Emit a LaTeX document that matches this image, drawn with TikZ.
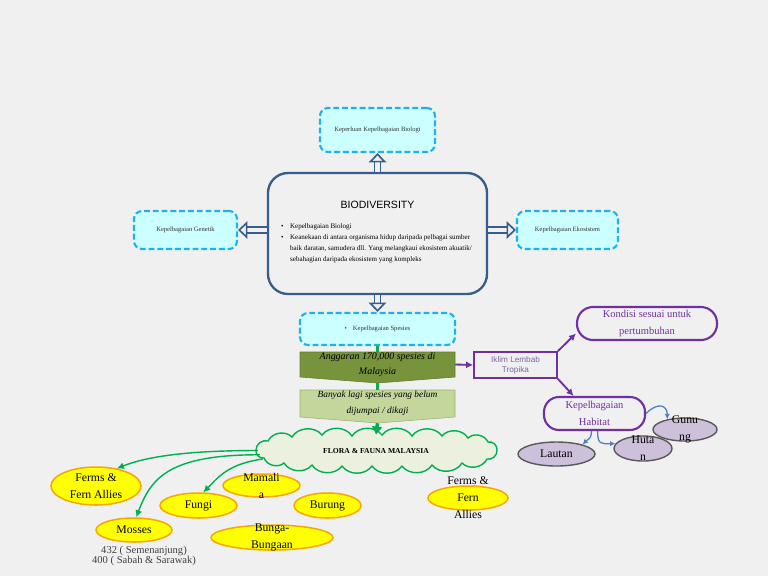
\documentclass[tikz,border=0pt]{standalone}
\usepackage{fontspec}
\setmainfont{Liberation Serif}
\setsansfont{Liberation Sans}
\usetikzlibrary{arrows.meta,shapes.geometric}

\definecolor{paper}{HTML}{F0F0F0}
\definecolor{navy}{HTML}{385D8A}
\definecolor{skyline}{HTML}{1FB0F0}
\definecolor{skyfill}{HTML}{CCFFFF}
\definecolor{darkolive}{HTML}{77933C}
\definecolor{lightolive}{HTML}{C3D69B}
\definecolor{leaf}{HTML}{00B050}
\definecolor{mint}{HTML}{EBF1DE}
\definecolor{grape}{HTML}{7030A0}
\definecolor{lilactext}{HTML}{8064A2}
\definecolor{steel}{HTML}{4F81BD}
\definecolor{lavender}{HTML}{CCC0DA}
\definecolor{sun}{HTML}{FFFF00}
\definecolor{amber}{HTML}{F5A800}

\begin{document}
\begin{tikzpicture}[x=0.03cm, y=-0.03cm,
    cyanbox/.style={draw=skyline, fill=skyfill, line width=1.8pt, dash pattern=on 5pt off 2.5pt, rounded corners=0.24cm, font=\fontsize{5.6}{7}\selectfont, text=black!80},
    hollowarr/.style={draw=navy, line width=1.4pt, double=paper, double distance=3.6pt, -{Triangle[open, fill=paper, length=8pt, width=15pt]}},
    purplebox/.style={draw=grape, line width=1.8pt, text=grape, align=center, inner sep=0pt, font=\fontsize{9}{15}\selectfont},
    purplearr/.style={draw=grape, line width=1.6pt, -{Latex[length=6pt,width=6pt]}},
    bluearr/.style={draw=steel, line width=1.1pt, -{Latex[length=4.5pt,width=4.5pt]}},
    greenarr/.style={draw=leaf, line width=1.2pt, -{Latex[length=6pt,width=6pt]}},
    greenline/.style={draw=leaf, line width=3pt},
    yellowell/.style={ellipse, draw=amber, fill=sun, line width=1.3pt, inner sep=0pt, font=\fontsize{10}{14.5}\selectfont},
    lavell/.style={ellipse, draw=black!65, fill=lavender, line width=1.2pt, inner sep=0pt, font=\fontsize{10}{14.5}\selectfont},
    handlbl/.style={align=center, inner sep=0pt, font=\fontsize{10}{14.5}\selectfont},
  ]

    % page
    \fill[paper] (0,0) rectangle (768,576);
    \useasboundingbox (0,0) rectangle (768,576);

    % central box
    \node[draw=navy, line width=2pt, rounded corners=0.6cm, minimum width=6.57cm, minimum height=3.63cm] (bio) at (377.5,233.5) {};
    \node[font=\fontsize{9}{11}\sffamily] (biotitle) at (377.5,205) {BIODIVERSITY};
    \node[anchor=west, inner sep=0pt, font=\fontsize{6}{9.35}\selectfont] (biolist) at (281,242.5)
      {\begin{tabular}{@{}l@{\hspace{5.5pt}}l@{}}
        \textbullet & Kepelbagaian Biologi\\
        \textbullet & Keanekaan di antara organisma hidup daripada pelbagai sumber\\
                    & baik daratan, samudera dll. Yang melangkaui ekosistem akuatik/\\
                    & sebahagian daripada ekosistem yang kompleks
      \end{tabular}};

    % satellite boxes
    \node[cyanbox, minimum width=3.45cm, minimum height=1.32cm] (keperluan) at (377.5,130) {Keperluan Kepelbagaian Biologi};
    \node[cyanbox, minimum width=3.09cm, minimum height=1.14cm] (genetik) at (185.5,230) {Kepelbagaian Genetik};
    \node[cyanbox, minimum width=3.03cm, minimum height=1.14cm] (ekosistem) at (567.5,230) {Kepelbagaian Ekosistem};
    \node[cyanbox, minimum width=4.65cm, minimum height=0.96cm] (spesies) at (377.5,329) {\textbullet\hspace{5pt}Kepelbagaian Spesies};

    \draw[hollowarr] (bio.north) -- (keperluan.south);
    \draw[hollowarr] (bio.west |- genetik.east) -- (genetik.east);
    \draw[hollowarr] (bio.east |- ekosistem.west) -- (ekosistem.west);
    \draw[hollowarr] (bio.south) -- (spesies.north);

    %%%%%%%%%%%%%%%%%%%%%%%%%%%%%%%%%%%%%%%%%%%%%%%%%%%%%%%%%

    % species estimates
    \fill[darkolive, draw=darkolive!85!black, line width=0.5pt] (300,352) -- (455,352) -- (455,377) -- (377.5,383) -- (300,377) -- cycle;
    \node[minimum width=4.65cm, minimum height=0.75cm, inner sep=0pt, align=center, font=\fontsize{8.5}{12.7}\selectfont\itshape] (anggaran) at (377.5,364.5) {Anggaran 170,000 spesies di\\Malaysia};

    \fill[lightolive, draw=darkolive!70, line width=0.5pt] (300,390) -- (455,390) -- (455,417) -- (377.5,423) -- (300,417) -- cycle;
    \node[minimum width=4.65cm, minimum height=0.81cm, inner sep=0pt, align=center, font=\fontsize{8}{13.6}\selectfont\itshape] (banyak) at (377.5,403.5) {Banyak lagi spesies yang belum\\dijumpai / dikaji};

    % flora & fauna cloud
    \filldraw[fill=mint, draw=leaf, line width=1.2pt] (256,450)
      \foreach \cx/\cy in {268/441,292/437,322/435,352/436,382/435,412/436,442/436,468/438,488/442,497/450,
                           487/459,462/463,432/465,402/466,372/466,342/466,312/465,284/463,264/458,256/450}
      { to[bend left=55] (\cx,\cy) } -- cycle;
    \node[minimum width=7.26cm, minimum height=0.93cm, inner sep=0pt, font=\fontsize{6.5}{7}\selectfont\bfseries] (flora) at (376,450.5) {FLORA \& FAUNA MALAYSIA};

    \draw[greenline] (spesies.south) -- (anggaran.north);
    \draw[greenline] ([yshift=-0.18cm]anggaran.south) -- (banyak.north);
    \draw[greenline, -{Latex[length=7pt,width=10pt]}] ([yshift=-0.18cm]banyak.south) -- (flora.north);

    %%%%%%%%%%%%%%%%%%%%%%%%%%%%%%%%%%%%%%%%%%%%%%%%%%%%%%%%%

    % climate branch
    \node[purplebox, line width=1.5pt, minimum width=2.49cm, minimum height=0.78cm, text=lilactext, font=\fontsize{7}{8.5}\sffamily] (iklim) at (515.5,365) {Iklim Lembab\\Tropika};
    \node[purplebox, rounded corners=0.48cm, minimum width=4.2cm, minimum height=0.99cm] (kondisi) at (647,323.5) {Kondisi sesuai untuk\\pertumbuhan};
    \node[purplebox, rounded corners=0.45cm, minimum width=3.03cm, minimum height=0.99cm] (habitat) at (594.5,413.5) {Kepelbagaian\\Habitat};

    \draw[purplearr] (anggaran.east) -- (iklim.west);
    \draw[purplearr] (iklim.north east) -- (kondisi.188);
    \draw[purplearr] (iklim.south east) -- (habitat.140);

    % habitats
    \node[lavell, minimum width=2.31cm, minimum height=0.72cm] (lautan) at (556.5,454) {Lautan};
    \node[lavell, minimum width=1.74cm, minimum height=0.75cm, label={[handlbl]center:Huta\\n}] (hutan) at (643,448.5) {};
    \node[lavell, minimum width=1.92cm, minimum height=0.69cm, label={[handlbl]center:Gunu\\ng}] (gunung) at (685,429.5) {};

    \draw[bluearr] (habitat.east) .. controls +(12,-12) and +(0,-14) .. (gunung.150);
    \draw[bluearr] (habitat.280) .. controls +(0,14) and +(-14,0) .. (hutan.170);
    \draw[bluearr] (habitat.260) .. controls +(0,8) and +(6,-6) .. (lautan.20);

    %%%%%%%%%%%%%%%%%%%%%%%%%%%%%%%%%%%%%%%%%%%%%%%%%%%%%%%%%

    % groups of flora & fauna
    \node[yellowell, minimum width=2.7cm, minimum height=1.14cm, label={[handlbl]center:Ferms \&\\Fern Allies}] (fernleft) at (96,486) {};
    \node[yellowell, minimum width=2.28cm, minimum height=0.72cm] (mosses) at (134,530) {Mosses};
    \node[yellowell, minimum width=2.31cm, minimum height=0.75cm] (fungi) at (198.5,505.5) {Fungi};
    \node[yellowell, minimum width=2.31cm, minimum height=0.69cm, label={[handlbl]center:Mamali\\a}] (mamalia) at (261.5,485.5) {};
    \node[yellowell, minimum width=2.01cm, minimum height=0.75cm] (burung) at (327.5,505.5) {Burung};
    \node[yellowell, minimum width=3.66cm, minimum height=0.75cm, label={[handlbl]center:Bunga-\\Bungaan}] (bunga) at (272,537.5) {};
    \node[yellowell, minimum width=2.4cm, minimum height=0.72cm, label={[handlbl]center:Ferms \&\\Fern\\Allies}] (fernright) at (468,498) {};

    % moss counts
    \node[align=center, inner sep=0pt, text=black!75, font=\fontsize{9}{8.5}\selectfont] (mosscount) at (144,556) {432 ( Semenanjung)\\400 ( Sabah \& Sarawak)};

    \draw[greenarr] ([xshift=0.09cm]flora.west) .. controls +(-70,0) and +(30,-12) .. (fernleft.40);
    \draw[greenarr] ([xshift=0.15cm]flora.182) .. controls +(-90,0) and +(15,-40) .. (mosses.80);
    \draw[greenarr] ([xshift=0.24cm]flora.184) .. controls +(-35,5) and +(15,-15) .. (fungi.70);

\end{tikzpicture}
\end{document}
